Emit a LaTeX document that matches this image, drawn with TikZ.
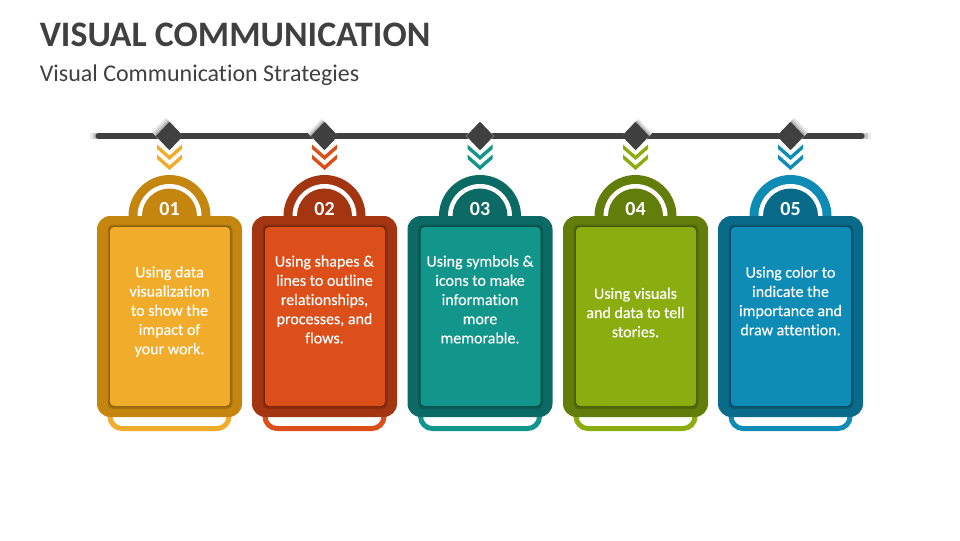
\documentclass[tikz,border=0pt]{standalone}
\usepackage{fontspec}
\setmainfont[Ligatures=CommonOff]{Carlito}
\newfontfamily\cardfont[Ligatures=CommonOff,FakeBold=0.25]{Carlito}
\usetikzlibrary{shapes.geometric}
\definecolor{ink}{HTML}{404040}
\definecolor{lightA}{HTML}{F0AC2A}
\definecolor{darkA}{HTML}{C4860E}
\definecolor{lightB}{HTML}{DC4F1B}
\definecolor{darkB}{HTML}{A33511}
\definecolor{lightC}{HTML}{12958A}
\definecolor{darkC}{HTML}{0B6B64}
\definecolor{lightD}{HTML}{8BAD10}
\definecolor{darkD}{HTML}{637D0A}
\definecolor{lightE}{HTML}{0E8CB6}
\definecolor{darkE}{HTML}{0A6A8A}
\tikzset{
    every node/.style={text=white,font=\fontsize{12pt}{14.4pt}\cardfont},
    mark diamond/.style={diamond,fill=ink,minimum width=20.5pt,minimum height=21.5pt,inner sep=0pt},
    card text/.style={align=center,inner sep=0pt}
}
\begin{document}
\begin{tikzpicture}[x=0.75pt,y=-0.75pt]
    \useasboundingbox (0,0) rectangle (960,540);
    \node[anchor=west,inner sep=0pt,text=ink,font=\fontsize{26.9pt}{30pt}\selectfont\rmfamily\bfseries] (title) at (39.5,35) {VISUAL COMMUNICATION};
    \node[anchor=west,inner sep=0pt,text=ink,font=\fontsize{18pt}{20pt}\selectfont\rmfamily] (subtitle) at (39.5,75.5) {Visual Communication Strategies};

    \draw[line width=5pt,black!8] (90,136) -- (871,136);
    \draw[line width=4.4pt,black!22] (93,136) -- (868,136);
    \draw[line width=3.9pt,ink,line cap=round] (98,136) -- (862,136);

    \foreach \x/\s/\u/\c/\o/\n/\ty/\t in {
        169.5/-4/4/A/darkA/01/311.5/{Using data\\visualization\\to show the\\impact of\\your work.},
        324.5/-3/3/B/darkB/02/299.5/{Using shapes \&\\lines to outline\\relationships,\\processes, and\\flows.},
        480/0/0/C/darkC/03/299.5/{Using symbols \&\\icons to make\\information\\more\\memorable.},
        635.5/3/3/D/darkD/04/312.5/{Using visuals\\and data to tell\\stories.},
        790.5/4/4/E/lightE/05/301/{Using color to\\indicate the\\importance and\\draw attention.}}{
        % marker
        \foreach \k/\g in {1/8,0.75/14,0.5/22,0.25/32}{
            \node[mark diamond,fill=black!\g] (shade\n\g) at ({\x+\s*\k},{136-\u*\k}) {};
        }
        \node[mark diamond] (mark\n) at (\x,136) {};
        \fill[color=light\c] (\x-12.5,144.5) -- (\x,155.5) -- (\x+12.5,144.5) -- (\x+12.5,149) -- (\x,160) -- (\x-12.5,149) -- cycle;
        \fill[color=light\c] (\x-12.5,154.5) -- (\x,165.5) -- (\x+12.5,154.5) -- (\x+12.5,159) -- (\x,170) -- (\x-12.5,159) -- cycle;
        % tab
        \fill[color=\o] (\x-41,216) arc[start angle=180,end angle=360,radius=41] -- cycle;
        \fill[white] (\x-32,216) arc[start angle=180,end angle=360,radius=32] -- cycle;
        \fill[color=dark\c] (\x-27.5,216) arc[start angle=180,end angle=360,radius=27.5] -- cycle;
        % bracket under the card
        \draw[line width=3.75pt,color=light\c,rounded corners=9pt] (\x-59.5,410) -- (\x-59.5,428.5) -- (\x+59.5,428.5) -- (\x+59.5,410);
        % card
        \fill[color=dark\c,rounded corners=10pt] (\x-72.5,216) rectangle (\x+72.5,417);
        \fill[color=dark\c!85!black,rounded corners=4pt] (\x-62,224.5) rectangle (\x+63,409);
        \fill[color=dark\c!70!black,rounded corners=3pt] (\x-60.5,226) rectangle (\x+61.5,407);
        \fill[color=light\c,rounded corners=3pt] (\x-59.5,227) rectangle (\x+60.5,406);
        \node[font=\fontsize{15pt}{16pt}\selectfont\rmfamily\bfseries] (num\n) at (\x,209) {\n};
        \node[card text] (text\n) at (\x,\ty) {\t};
    }
\end{tikzpicture}
\end{document}
